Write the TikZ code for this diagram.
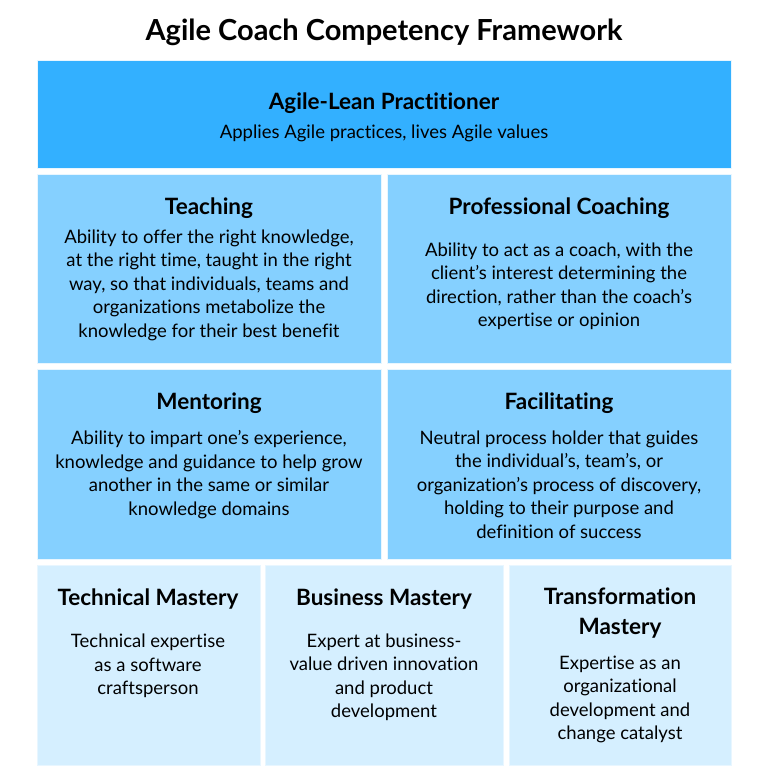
\documentclass[tikz,border=0pt]{standalone}
\usepackage{fontspec}
\setmainfont{Lato}[Ligatures=NoCommon]
\definecolor{topblue}{HTML}{33B0FF}
\definecolor{midblue}{HTML}{85D0FF}
\definecolor{lowblue}{HTML}{D5EFFF}
\definecolor{edge}{HTML}{E8F6FF}
\begin{document}
\begin{tikzpicture}[x=1pt,y=-1pt,
  box/.style={draw=edge,line width=0.8pt},
  head/.style={font=\fontsize{22.5}{24}\selectfont\bfseries,align=center,inner sep=0pt},
  body/.style={font=\fontsize{18.5}{23.5}\selectfont,align=center,inner sep=0pt},
  ttl/.style={font=\fontsize{29}{32}\selectfont\bfseries,inner sep=0pt}]
\useasboundingbox (0,0) rectangle (768,768);
\fill[white] (0,0) rectangle (768,768);
% boxes
\filldraw[box,fill=topblue] (37,60) rectangle (731,168);
\filldraw[box,fill=midblue] (37,174) rectangle (381,363);
\filldraw[box,fill=midblue] (387,174) rectangle (731,363);
\filldraw[box,fill=midblue] (37,369) rectangle (381,559);
\filldraw[box,fill=midblue] (387,369) rectangle (731,559);
\filldraw[box,fill=lowblue] (37,565) rectangle (260,765);
\filldraw[box,fill=lowblue] (265,565) rectangle (503,765);
\filldraw[box,fill=lowblue] (509,565) rectangle (731,765);
% texts
\node[ttl] (title) at (384,32) {Agile Coach Competency Framework};
\node[head] (alp) at (384,103) {Agile-Lean Practitioner};
\node[body] (alpb) at (384,133) {Applies Agile practices, lives Agile values};
\node[head] (teach) at (209,208) {Teaching};
\node[body] (teachb) at (209,285) {Ability to offer the right knowledge,\\at the right time, taught in the right\\way, so that individuals, teams and\\organizations metabolize the\\knowledge for their best benefit};
\node[head] (pc) at (559,208) {Professional Coaching};
\node[body] (pcb) at (559,286.5) {Ability to act as a coach, with the\\client’s interest determining the\\direction, rather than the coach’s\\expertise or opinion};
\node[head] (ment) at (209,403) {Mentoring};
\node[body] (mentb) at (209,474.5) {Ability to impart one’s experience,\\knowledge and guidance to help grow\\another in the same or similar\\knowledge domains};
\node[head] (fac) at (559,403) {Facilitating};
\node[body] (facb) at (559,484.5) {Neutral process holder that guides\\the individual’s, team’s, or\\organization’s process of discovery,\\holding to their purpose and\\definition of success};
\node[head] (tm) at (148,599) {Technical Mastery};
\node[body] (tmb) at (148,666) {Technical expertise\\as a software\\craftsperson};
\node[head] (bm) at (384,599) {Business Mastery};
\node[body] (bmb) at (384,677.5) {Expert at business-\\value driven innovation\\and product\\development};
\node[head,font=\fontsize{22.5}{30}\selectfont\bfseries] (trm) at (620,613.5) {Transformation\\Mastery};
\node[body] (trmb) at (620,699.5) {Expertise as an\\organizational\\development and\\change catalyst};
\end{tikzpicture}
\end{document}
